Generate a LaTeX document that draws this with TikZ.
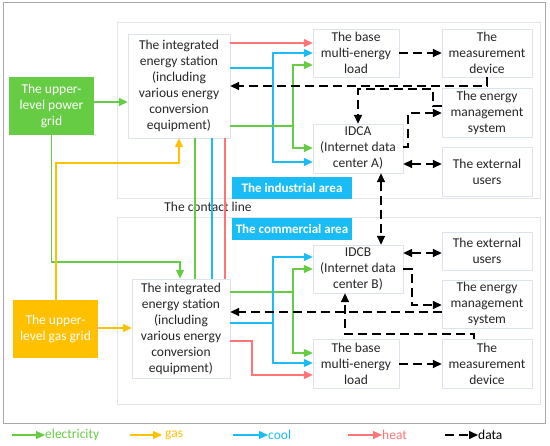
\documentclass[tikz,border=0pt]{standalone}
\usepackage{fontspec}
\setmainfont{Carlito}
\usepackage{xcolor}
\usetikzlibrary{arrows.meta}
\definecolor{elecgreen}{HTML}{66CC44}
\definecolor{gasorange}{HTML}{FFC000}
\definecolor{coolblue}{HTML}{1ABCF5}
\definecolor{heatred}{HTML}{FF7575}
\definecolor{boxgray}{HTML}{DDE3EE}
\definecolor{areagray}{HTML}{E4E4E4}
\definecolor{framegray}{HTML}{A8A8A8}
\definecolor{txtgray}{HTML}{262626}
\tikzset{box/.style={draw=boxgray,fill=white,align=center,inner sep=0pt,
   font=\fontsize{13.5}{16}\selectfont,text=txtgray},
 grid/.style={align=center,inner sep=0pt,text=white,
   font=\fontsize{13.5}{16}\selectfont},
 arealabel/.style={fill=coolblue,text=white,inner sep=0pt,
   minimum width=120,minimum height=22,font=\bfseries\fontsize{13}{16}\selectfont},
 tip/.style={-{Triangle[length=9pt,width=8pt]}},
 elec/.style={draw=elecgreen,line width=1.3pt,tip},
 gas/.style={draw=gasorange,line width=1.3pt,tip},
 cool/.style={draw=coolblue,line width=1.3pt,tip},
 heat/.style={draw=heatred,line width=1.3pt,tip},
 link/.style={line width=1.3pt},
 data/.style={draw=black,line width=1.5pt,dash pattern=on 9pt off 5pt,tip},
 datab/.style={data,{Triangle[length=9pt,width=8pt]}-{Triangle[length=9pt,width=8pt]}},
 legend/.style={anchor=west,inner sep=0pt,font=\fontsize{13.5}{16}\selectfont},
 }

\begin{document}
\begin{tikzpicture}[x=1pt,y=-1pt]
    \useasboundingbox (0,0) rectangle (550,446);
    % frames
    \draw[framegray,line width=1pt] (3,3) rectangle (545,424);
    \draw[areagray,line width=1pt] (117,23) rectangle (540,199);
    \draw[areagray,line width=1pt] (117,218) rectangle (540,405);
    \node[arealabel] (indA) at (292,188) {The industrial area};
    \node[arealabel] (comB) at (292,229) {The commercial area};
    \node[inner sep=0pt,font=\fontsize{13.5}{16}\selectfont,text=txtgray] (contact) at (208,207) {The contact line};

    % grids
    \node[grid,fill=elecgreen,minimum width=85,minimum height=58] (pgrid) at (51.5,106) {The upper-\\level power\\grid};
    \node[grid,fill=gasorange,minimum width=85,minimum height=58] (ggrid) at (55.5,329) {The upper-\\level gas grid};

    % industrial area
    \node[box,minimum width=102,minimum height=104] (stA) at (179,86) {The integrated\\energy station\\(including\\various energy\\conversion\\equipment)};
    \node[box,minimum width=86,minimum height=48] (loadA) at (356,53) {The base\\multi-energy\\load};
    \node[box,minimum width=90,minimum height=48] (measA) at (487,53) {The\\measurement\\device};
    \node[box,minimum width=90,minimum height=49] (emsA) at (487,112.5) {The energy\\management\\system};
    \node[box,minimum width=90,minimum height=49] (idcA) at (358,148.5) {IDCA\\(Internet data\\center A)};
    \node[box,minimum width=90,minimum height=49] (extA) at (487,171.5) {The external\\users};

    % commercial area
    \node[box,minimum width=98,minimum height=99] (stB) at (181,328.5) {The integrated\\energy station\\(including\\various energy\\conversion\\equipment)};
    \node[box,minimum width=90,minimum height=48] (idcB) at (358,269) {IDCB\\(Internet data\\center B)};
    \node[box,minimum width=90,minimum height=38] (extB) at (487,251) {The external\\users};
    \node[box,minimum width=90,minimum height=48] (emsB) at (487,304) {The energy\\management\\system};
    \node[box,minimum width=86,minimum height=49] (loadB) at (356,363.5) {The base\\multi-energy\\load};
    \node[box,minimum width=90,minimum height=49] (measB) at (487,363.5) {The\\measurement\\device};

    % grids to stations
    \draw[elec] (pgrid.east |- 0,102) -- (stA.west |- 0,102);
    \draw[elec] (pgrid.south) |- (180,262) -- (stB.north -| 180,0);
    \draw[gas] (ggrid.north -| 56,0) |- (179,163) -- (stA.south -| 179,0);
    \draw[gas] (ggrid.east |- 0,328) -- (stB.west |- 0,328);

    % contact line
    \draw[link,elecgreen] (stA.south -| 195,0) -- (stB.north -| 195,0);
    \draw[link,coolblue] (stA.south -| 212,0) -- (stB.north -| 212,0);
    \draw[link,heatred] (stA.south -| 225,0) -- (stB.north -| 225,0);

    % energy flows, industrial
    \draw[heat] (stA.east |- 0,43) -- (loadA.west |- 0,43);
    \draw[cool] (stA.east |- 0,68) -| (273,53) -- (loadA.west |- 0,53);
    \draw[cool] (273,68) |- (idcA.west |- 0,162);
    \draw[elec] (stA.east |- 0,126) -| (293,65) -- (loadA.west |- 0,65);
    \draw[elec] (293,126) |- (idcA.west |- 0,148);

    % data, industrial
    \draw[data] (loadA) -- (measA);
    \draw[data] (measA.south) |- (stA.east |- 0,86);
    \draw[data] (emsA.west |- 0,106) -| (433,89) -| (idcA.north);
    \draw[data] (idcA.east |- 0,147) -| (408,113) -- (emsA.west |- 0,113);
    \draw[datab] (idcA.east |- 0,164) -- (extA.west |- 0,164);
    \draw[datab] (idcA.south -| 381,0) -- (idcB.north -| 381,0);

    % energy flows, commercial
    \draw[elec] (stB.east |- 0,292) -| (293,269) -- (idcB.west |- 0,269);
    \draw[elec] (293,292) |- (loadB.west |- 0,353);
    \draw[cool] (stB.east |- 0,323) -| (273,257) -- (idcB.west |- 0,257);
    \draw[cool] (273,323) |- (loadB.west |- 0,363);
    \draw[heat] (stB.east |- 0,341) -| (252,375) -- (loadB.west |- 0,375);

    % data, commercial
    \draw[datab] (idcB.east |- 0,253) -- (extB.west |- 0,253);
    \draw[data] (idcB.east |- 0,269) -| (412,305) -- (emsB.west |- 0,305);
    \draw[data] (emsB.west |- 0,312) -- (stB.east |- 0,312);
    \draw[data] (measB.north -| 474,0) |- (345,334) -- (idcB.south -| 345,0);
    \draw[data] (loadB.east |- 0,364) -- (measB.west |- 0,364);

    % legend
    \node[legend,text=elecgreen] (lgElec) at (45,435) {electricity};
    \node[legend,text=gasorange] (lgGas) at (165,435) {gas};
    \node[legend,text=coolblue] (lgCool) at (268,435) {cool};
    \node[legend,text=heatred] (lgHeat) at (382,435) {heat};
    \node[legend,text=black] (lgData) at (478,435) {data};
    \draw[elec] ([xshift=-33pt]lgElec.west) -- (lgElec.west);
    \draw[gas] ([xshift=-35pt]lgGas.west) -- ([xshift=-3pt]lgGas.west);
    \draw[cool] ([xshift=-35pt]lgCool.west) -- (lgCool.west);
    \draw[heat] ([xshift=-34pt]lgHeat.west) -- (lgHeat.west);
    \draw[data] ([xshift=-33pt]lgData.west) -- (lgData.west);
\end{tikzpicture}
\end{document}
